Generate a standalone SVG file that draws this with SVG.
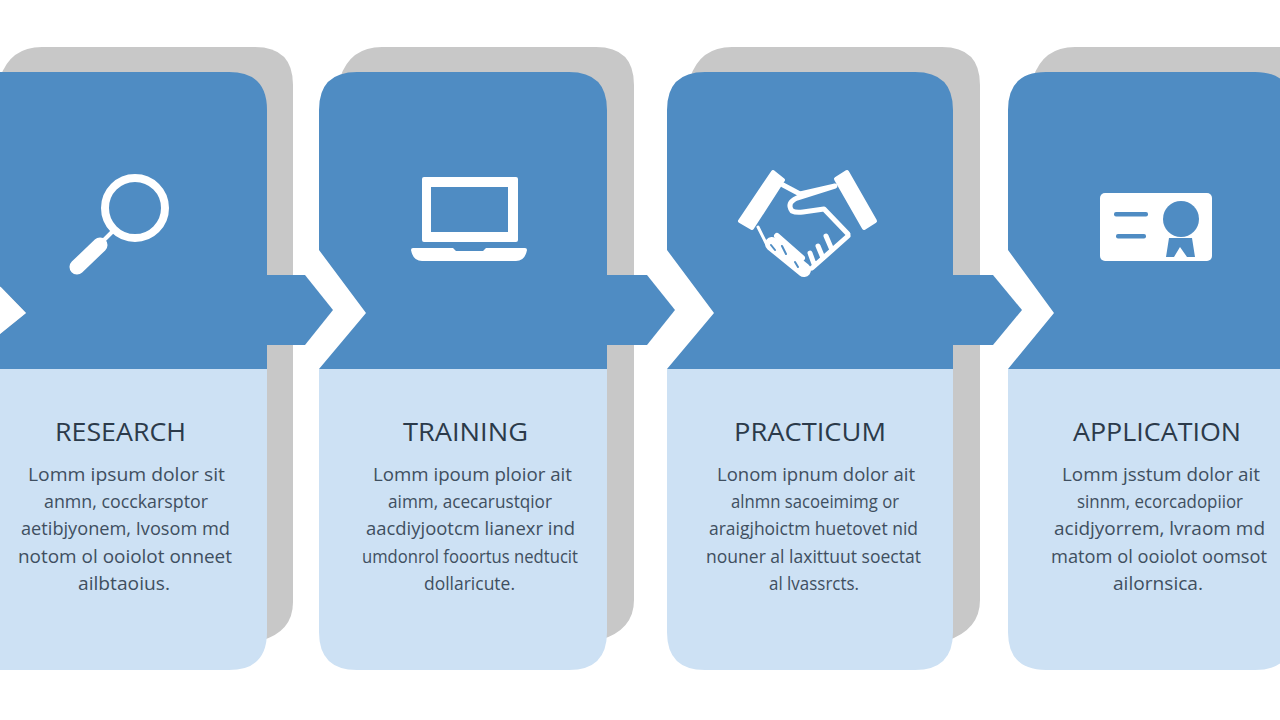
<svg xmlns="http://www.w3.org/2000/svg" width="1280" height="720" viewBox="0 0 1280 720">
<style>
.sh{fill:#c8c8c8}.top{fill:#4f8cc3}.bot{fill:#cde1f4}.w{fill:#fff}
.t{font-family:"Open Sans","Noto Sans",sans-serif;font-size:25px;font-weight:500;fill:#2b3a4a}
.b{font-family:"Open Sans","Noto Sans",sans-serif;font-size:18px;fill:#3f4f60}
.ln{fill:none;stroke:#fff;stroke-linecap:round;stroke-linejoin:round}
.cut{fill:none;stroke:#4f8cc3;stroke-width:2;stroke-linecap:round}
.hw{fill:#fff;stroke:#fff;stroke-width:4;stroke-linejoin:round}
</style>
<rect width="1280" height="720" fill="#fff"/>
<g id="card-research">
<path class="sh" d="M0 78Q10 47 42 47H255Q293 47 293 85V602Q293 632 260 641H0Z"/>
<path class="top" d="M-10 72H229Q267 72 267 110V369H-10V342L26 313L-10 276Z"/>
<path class="w" d="M-10 276L26 313L-10 342Z"/>
<path class="bot" d="M-10 369H267V632Q267 670 229 670H-10Z"/>
<g id="icon-research"><circle cx="135" cy="208" r="30" fill="none" stroke="#fff" stroke-width="8"/>
<path class="ln" stroke-width="4" d="M113 231L100 244"/><path class="ln" stroke-width="15" d="M100 245L77 267"/></g>
<text class="t" x="55" y="441" textLength="131" lengthAdjust="spacingAndGlyphs">RESEARCH</text>
<text class="b" x="28" y="481" textLength="197" lengthAdjust="spacingAndGlyphs">Lomm ipsum dolor sit</text>
<text class="b" x="44" y="508" textLength="164" lengthAdjust="spacingAndGlyphs">anmn, cocckarsptor</text>
<text class="b" x="21" y="535" textLength="209" lengthAdjust="spacingAndGlyphs">aetibjyonem, Ivosom md</text>
<text class="b" x="18" y="563" textLength="214" lengthAdjust="spacingAndGlyphs">notom ol ooiolot onneet</text>
<text class="b" x="78" y="590" textLength="92" lengthAdjust="spacingAndGlyphs">ailbtaoius.</text>
</g>
<g id="card-training">
<path class="sh" d="M340 78Q350 47 382 47H596Q634 47 634 85V600Q634 630 600 640H400V78Z"/>
<path class="top" d="M357 72H569Q607 72 607 110V369H319L366 313L319 250V110Q319 72 357 72Z"/>
<path class="bot" d="M319 369H607V632Q607 670 569 670H357Q319 670 319 632Z"/>
<g id="icon-training"><path fill-rule="evenodd" class="w" d="M424 177H516Q518 177 518 179V240Q518 242 516 242H424Q422 242 422 240V179Q422 177 424 177ZM431 187V232H508V187Z"/>
<path class="w" d="M413 248H453L456 251H483L486 248H525Q527 248 527 250Q525 261 516 261H422Q413 261 411 250Q411 248 413 248Z"/></g>
<text class="t" x="403" y="441" textLength="125" lengthAdjust="spacingAndGlyphs">TRAINING</text>
<text class="b" x="373" y="481" textLength="199" lengthAdjust="spacingAndGlyphs">Lomm ipoum ploior ait</text>
<text class="b" x="388" y="508" textLength="164" lengthAdjust="spacingAndGlyphs">aimm, acecarustqior</text>
<text class="b" x="366" y="535" textLength="209" lengthAdjust="spacingAndGlyphs">aacdiyjootcm lianexr ind</text>
<text class="b" x="362" y="563" textLength="216" lengthAdjust="spacingAndGlyphs">umdonrol fooortus nedtucit</text>
<text class="b" x="424" y="590" textLength="91" lengthAdjust="spacingAndGlyphs">dollaricute.</text>
</g>
<g id="card-practicum">
<path class="sh" d="M690 78Q700 47 732 47H942Q980 47 980 85V600Q980 630 946 641H750V78Z"/>
<path class="top" d="M705 72H915Q953 72 953 110V369H667L714 313L667 250V110Q667 72 705 72Z"/>
<path class="bot" d="M667 369H953V632Q953 670 915 670H705Q667 670 667 632Z"/>
<g id="icon-practicum">
<path class="hw" d="M773 172L783 180L752 228L740 221Z"/>
<path class="hw" d="M836 179L847 172L875 221L864 228Z"/>
<path class="ln" stroke-width="5" d="M783 185L800 194L835 186L797 198Q786 203 792 211Q796 213 803 212L824 209L848 234"/>
<path class="ln" stroke-width="3" d="M758 227L766 243"/>
<path class="ln" stroke-width="5" d="M848 236L812 268M826 236L832 250M818 246L823 258M810 253L814 264"/>
<path class="ln" stroke-width="14" d="M772 244L804 270"/>
<path class="ln" stroke-width="6" d="M777 236L802 258"/>
<path class="cut" d="M771 245L775 250M782 246L786 254M795 262L798 267"/>
</g>
<text class="t" x="734" y="441" textLength="152" lengthAdjust="spacingAndGlyphs">PRACTICUM</text>
<text class="b" x="717" y="481" textLength="198" lengthAdjust="spacingAndGlyphs">Lonom ipnum dolor ait</text>
<text class="b" x="731" y="508" textLength="168" lengthAdjust="spacingAndGlyphs">alnmn sacoeimimg or</text>
<text class="b" x="709" y="535" textLength="209" lengthAdjust="spacingAndGlyphs">araigjhoictm  huetovet  nid</text>
<text class="b" x="706" y="563" textLength="215" lengthAdjust="spacingAndGlyphs">nouner al laxittuut soectat</text>
<text class="b" x="769" y="590" textLength="90" lengthAdjust="spacingAndGlyphs">al lvassrcts.</text>
</g>
<g id="card-application">
<path class="sh" d="M1033 78Q1043 47 1075 47H1290V120H1033Z"/>
<path class="top" d="M1046 72H1255Q1293 72 1293 110V369H1008L1054 313L1008 250V110Q1008 72 1046 72Z"/>
<path class="bot" d="M1008 369H1293V632Q1293 670 1255 670H1046Q1008 670 1008 632Z"/>
<g id="icon-application">
<rect class="w" x="1100" y="193" width="112" height="68" rx="5"/>
<rect class="top" x="1114" y="212" width="34" height="4.5" rx="2"/>
<rect class="top" x="1116" y="234" width="30" height="4.5" rx="2"/>
<circle class="top" cx="1181" cy="219" r="18"/>
<path class="top" d="M1169 238H1192L1195 257H1187L1180 247L1174 257H1166Z"/></g>
<text class="t" x="1073" y="441" textLength="168" lengthAdjust="spacingAndGlyphs">APPLICATION</text>
<text class="b" x="1062" y="481" textLength="198" lengthAdjust="spacingAndGlyphs">Lomm jsstum dolor ait</text>
<text class="b" x="1077" y="508" textLength="166" lengthAdjust="spacingAndGlyphs">sinnm, ecorcadopiior</text>
<text class="b" x="1054" y="535" textLength="211" lengthAdjust="spacingAndGlyphs">acidjyorrem, lvraom md</text>
<text class="b" x="1051" y="563" textLength="216" lengthAdjust="spacingAndGlyphs">matom ol ooiolot oomsot</text>
<text class="b" x="1113" y="590" textLength="90" lengthAdjust="spacingAndGlyphs">ailornsica.</text>
</g>
<g id="connectors">
<path class="top" d="M267 275H305L333 310L305 345H267Z"/>
<path class="top" d="M607 275H647L675 310L647 345H607Z"/>
<path class="top" d="M953 275H993L1022 310L993 345H953Z"/>
</g>
</svg>
